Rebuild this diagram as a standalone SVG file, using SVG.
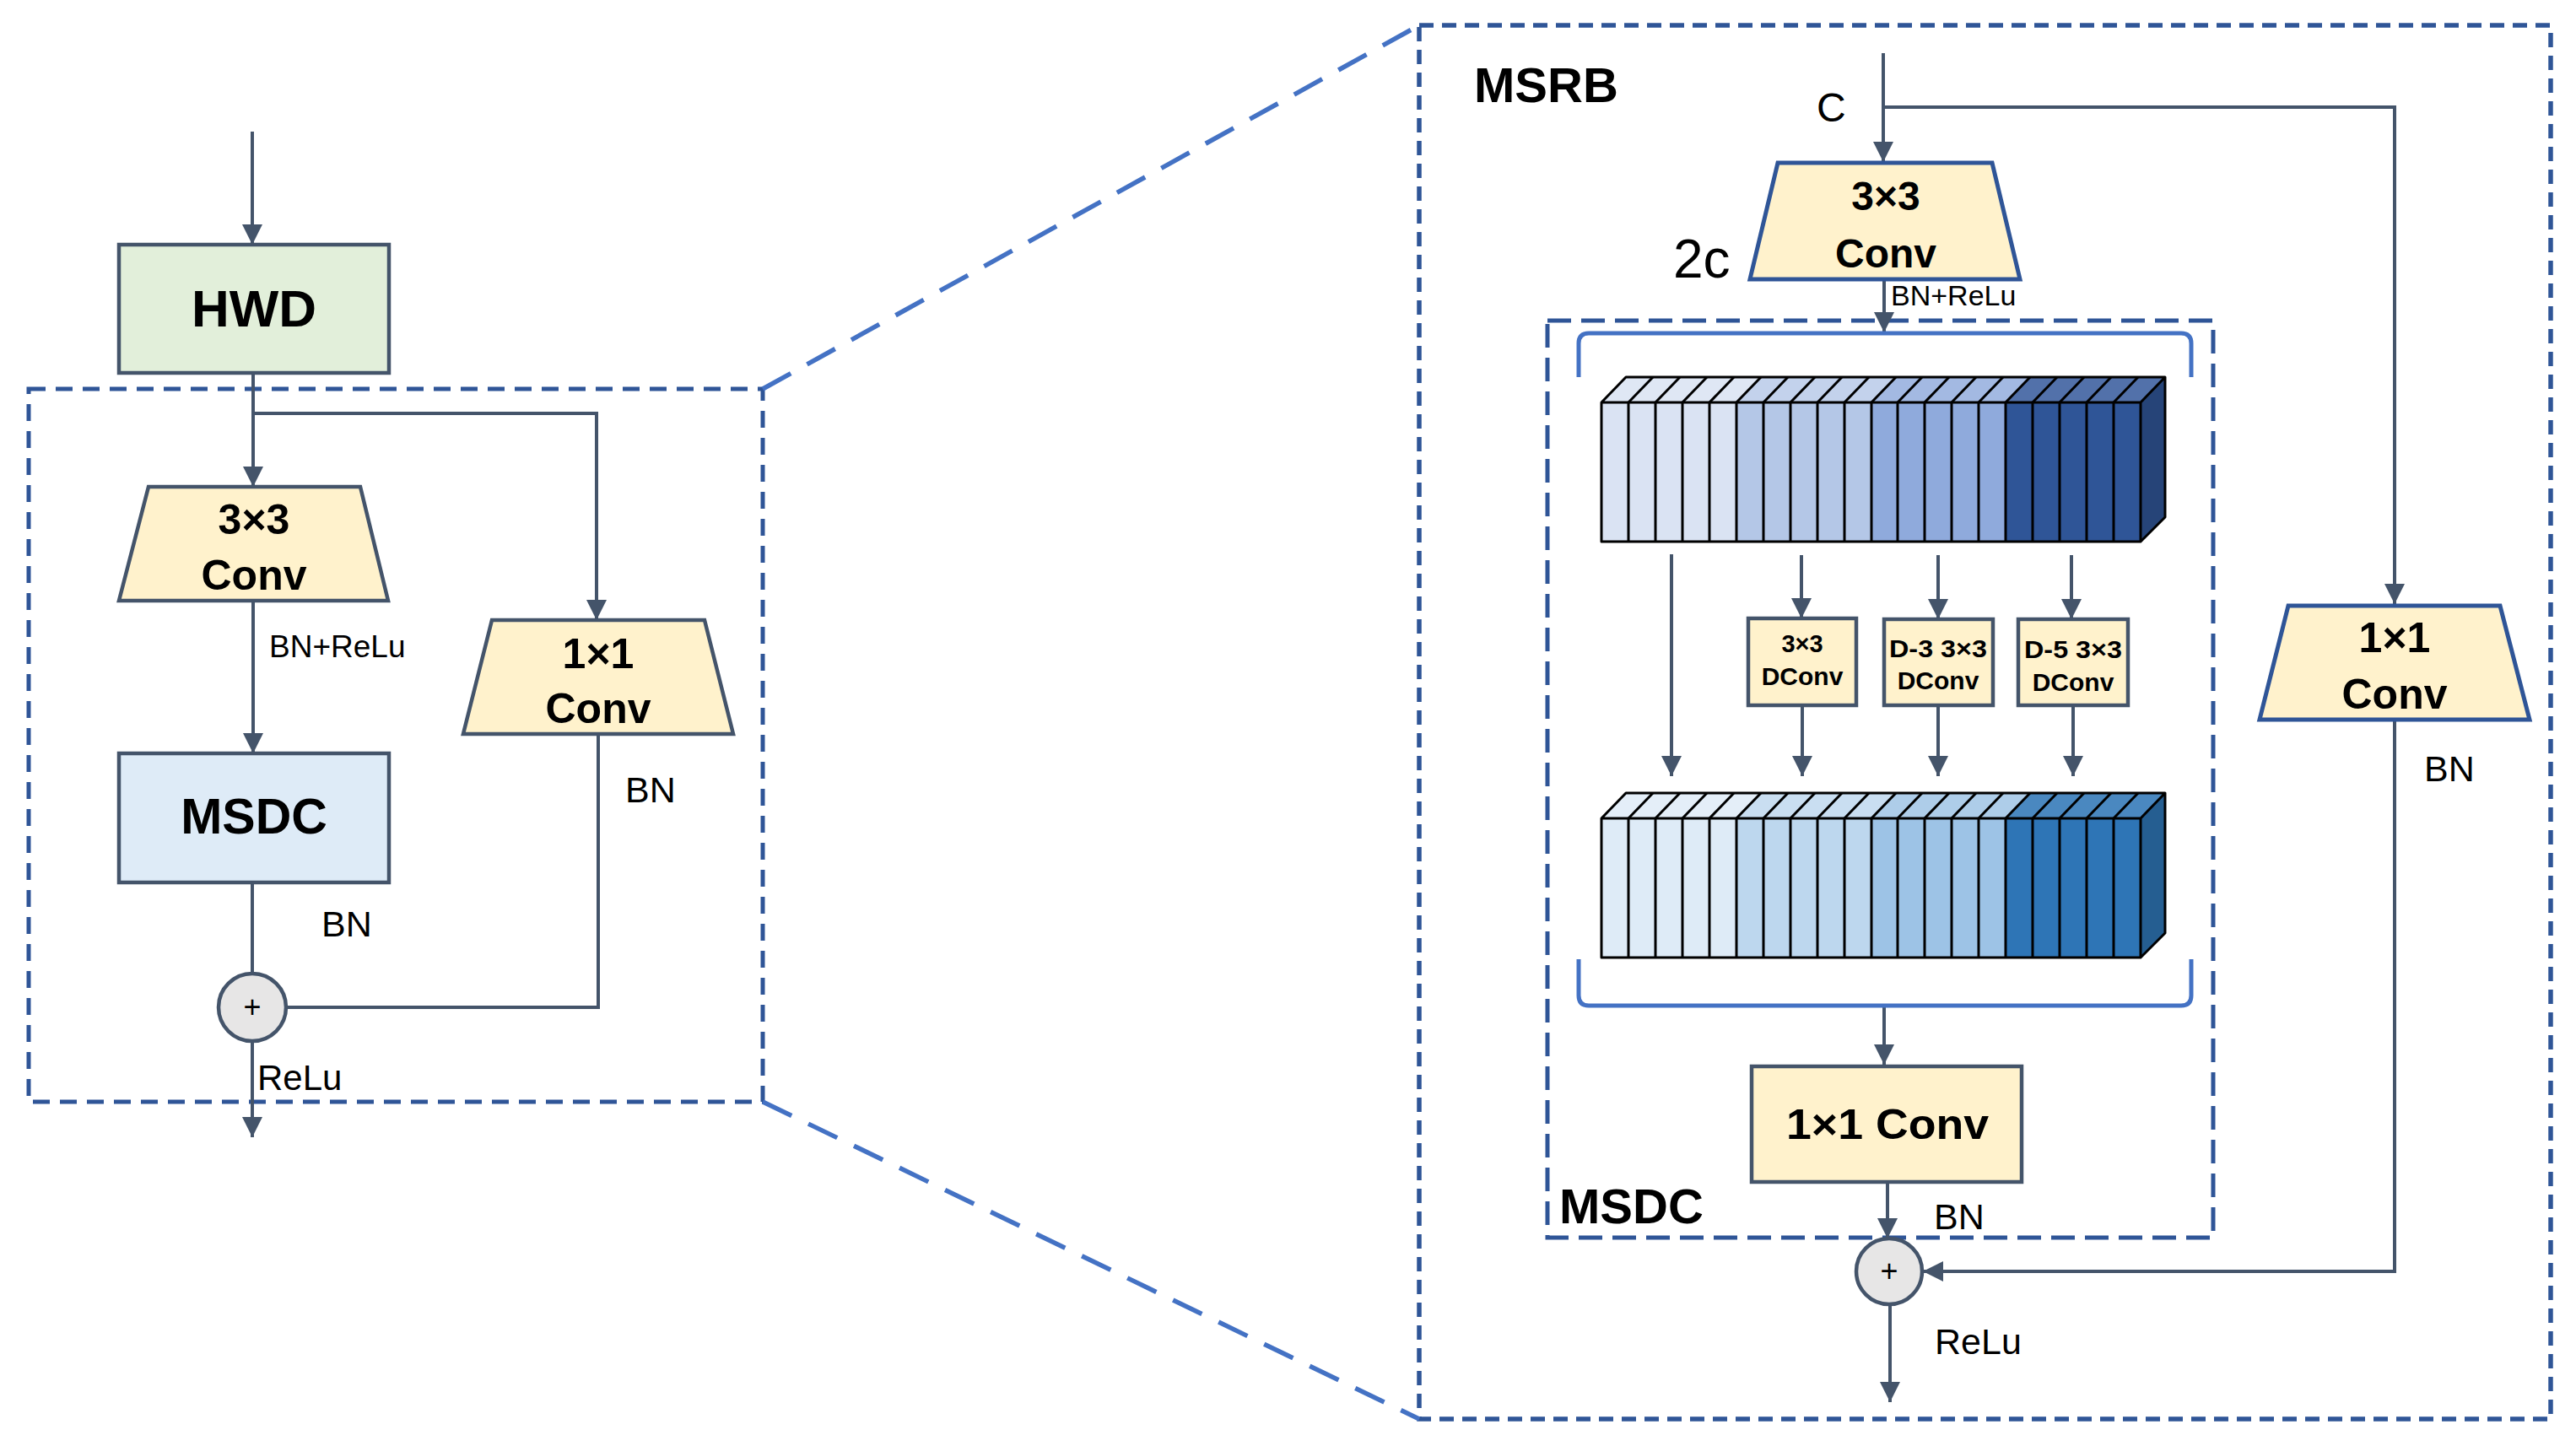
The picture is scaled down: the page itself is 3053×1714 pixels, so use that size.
<svg xmlns="http://www.w3.org/2000/svg" width="3053" height="1714" viewBox="0 0 3053 1714">
<defs>
<style>
.t{font-family:"Liberation Sans","Noto Sans",Arial,sans-serif;fill:#000}
.b{font-weight:bold}
.c{text-anchor:middle}
.node{stroke:#44546a;stroke-width:4.5}
.blue{stroke:#2f5597;stroke-width:5}
.conv{fill:#fff2cc}
.edge{fill:none;stroke:#44546a;stroke-width:4}
.arr{marker-end:url(#ah)}
.dash1{fill:none;stroke:#2f5597;stroke-width:5;stroke-dasharray:20 12}
.dash2{fill:none;stroke:#2f5597;stroke-width:5.5;stroke-dasharray:17 10}
.dash3{fill:none;stroke:#2f5597;stroke-width:5;stroke-dasharray:28 12}
.call{fill:none;stroke:#4472c4;stroke-width:5.5;stroke-dasharray:38 22}
.brk{fill:none;stroke:#4472c4;stroke-width:5}
.out{fill:none;stroke:#000;stroke-width:3;stroke-linejoin:round}
</style>
<marker id="ah" markerUnits="userSpaceOnUse" markerWidth="26" markerHeight="26" refX="24" refY="12" orient="auto">
<path d="M0,0 L24,12 L0,24 z" fill="#44546a"/>
</marker>
<path id="div" d="M1930,642V477l29,-30M1962,642V477l29,-30M1994,642V477l29,-30M2026,642V477l29,-30M2058,642V477l29,-30M2090,642V477l29,-30M2122,642V477l29,-30M2154,642V477l29,-30M2186,642V477l29,-30M2218,642V477l29,-30M2249,642V477l29,-30M2281,642V477l29,-30M2313,642V477l29,-30M2345,642V477l29,-30M2377,642V477l29,-30M2409,642V477l29,-30M2441,642V477l29,-30M2473,642V477l29,-30M2505,642V477l29,-30"/>
</defs>
<rect width="3053" height="1714" fill="#fff"/>

<g id="frames">
<rect class="dash1" x="34" y="461" width="870" height="845"/>
<rect class="dash2" x="1682" y="30" width="1341" height="1652"/>
<rect class="dash3" x="1834" y="380" width="789" height="1087"/>
<path class="call" d="M904,461 L1682,30 M904,1306 L1682,1682"/>
</g>

<g id="connectors">
<path class="edge arr" d="M299,156 V290"/>
<path class="edge arr" d="M300,442 V577"/>
<path class="edge arr" d="M300,490 H707 V735"/>
<path class="edge arr" d="M300,712 V893"/>
<path class="edge" d="M299,1046 V1154"/>
<path class="edge" d="M709,870 V1194 H339"/>
<path class="edge arr" d="M299,1234 V1348"/>
<path class="edge arr" d="M2232,63 V192"/>
<path class="edge arr" d="M2232,127 H2838 V716"/>
<path class="edge arr" d="M2233,331 V394"/>
<path class="edge arr" d="M1981,657 V920"/>
<path class="edge arr" d="M2135,658 V733"/>
<path class="edge arr" d="M2136,836 V920"/>
<path class="edge arr" d="M2297,658 V734"/>
<path class="edge arr" d="M2297,836 V920"/>
<path class="edge arr" d="M2455,658 V734"/>
<path class="edge arr" d="M2457,836 V920"/>
<path class="edge arr" d="M2233,1192 V1262"/>
<path class="edge arr" d="M2237,1401 V1468"/>
<path class="edge arr" d="M2838,853 V1507 H2279"/>
<path class="edge arr" d="M2240,1546 V1662"/>
</g>

<g id="hwd">
<rect class="node" x="141" y="290" width="320" height="152" fill="#e2efda"/>
<text class="t b c" x="301" y="387" font-size="62">HWD</text>
</g>
<g id="conv3x3-left">
<polygon class="node conv" points="176,577 427,577 460,712 141,712"/>
<text class="t b c" x="301" y="633" font-size="50">3×3</text>
<text class="t b c" x="301" y="699" font-size="50">Conv</text>
</g>
<g id="conv1x1-left">
<polygon class="node conv" points="583,735 835,735 869,870 549,870"/>
<text class="t b c" x="709" y="792" font-size="50">1×1</text>
<text class="t b c" x="709" y="857" font-size="50">Conv</text>
</g>
<g id="msdc-left">
<rect class="node" x="141" y="893" width="320" height="153" fill="#deebf7"/>
<text class="t b c" x="301" y="988" font-size="59">MSDC</text>
</g>
<g id="add-left">
<circle class="node" cx="299" cy="1194" r="40" fill="#e7e6e6"/>
<text class="t c" x="299" y="1206" font-size="36">+</text>
</g>
<g id="labels-left">
<text class="t" x="319" y="779" font-size="37">BN+ReLu</text>
<text class="t" x="741" y="951" font-size="43">BN</text>
<text class="t" x="381" y="1110" font-size="43">BN</text>
<text class="t" x="305" y="1292" font-size="42">ReLu</text>
</g>

<g id="msrb-title">
<text class="t b" x="1747" y="121" font-size="58">MSRB</text>
<text class="t" x="2153" y="144" font-size="48">C</text>
<text class="t" x="1983" y="329" font-size="64">2c</text>
<text class="t" x="2241" y="362" font-size="34">BN+ReLu</text>
</g>
<g id="conv3x3-right">
<polygon class="blue conv" points="2107,193 2361,193 2394,331 2074,331"/>
<text class="t b c" x="2235" y="249" font-size="48">3×3</text>
<text class="t b c" x="2235" y="317" font-size="48">Conv</text>
</g>
<g id="conv1x1-right">
<polygon class="blue conv" points="2712,718 2963,718 2998,853 2678,853"/>
<text class="t b c" x="2838" y="773" font-size="50">1×1</text>
<text class="t b c" x="2838" y="840" font-size="50">Conv</text>
<text class="t" x="2873" y="926" font-size="43">BN</text>
</g>

<g id="brackets">
<path class="brk" d="M1871,447 V407 Q1871,395 1883,395 H2585 Q2597,395 2597,407 V447"/>
<path class="brk" d="M1871,1137 V1180 Q1871,1192 1883,1192 H2585 Q2597,1192 2597,1180 V1137"/>
</g>

<g id="features-in">
<polygon points="1898,477 1927,447 2087,447 2058,477" fill="#dfe7f4"/>
<polygon points="2058,477 2087,447 2247,447 2218,477" fill="#c3d2ec"/>
<polygon points="2218,477 2247,447 2406,447 2377,477" fill="#a3b9e2"/>
<polygon points="2377,477 2406,447 2566,447 2537,477" fill="#5271aa"/>
<rect x="1898" y="477" width="160" height="165" fill="#dae3f3"/>
<rect x="2058" y="477" width="160" height="165" fill="#b4c7e7"/>
<rect x="2218" y="477" width="159" height="165" fill="#8faadc"/>
<rect x="2377" y="477" width="160" height="165" fill="#2f5597"/>
<polygon points="2537,477 2566,447 2566,613 2537,642" fill="#264478"/>
<use href="#div" class="out"/>
<path class="out" d="M1898,477 H2537 V642 H1898 Z M1898,477 L1927,447 H2566 V613 L2537,642 M2537,477 L2566,447"/>
</g>

<g id="dconv1">
<rect class="node conv" x="2072" y="733" width="128" height="103"/>
<text class="t b c" x="2136" y="773" font-size="29">3×3</text>
<text class="t b c" x="2136" y="812" font-size="30">DConv</text>
</g>
<g id="dconv2">
<rect class="node conv" x="2233" y="734" width="129" height="102"/>
<text class="t b c" x="2297" y="779" font-size="30" textLength="116" lengthAdjust="spacingAndGlyphs">D-3 3×3</text>
<text class="t b c" x="2297" y="817" font-size="30">DConv</text>
</g>
<g id="dconv3">
<rect class="node conv" x="2392" y="734" width="130" height="102"/>
<text class="t b c" x="2457" y="780" font-size="30" textLength="116" lengthAdjust="spacingAndGlyphs">D-5 3×3</text>
<text class="t b c" x="2457" y="819" font-size="30">DConv</text>
</g>

<g id="features-out" transform="translate(0,493)">
<polygon points="1898,477 1927,447 2087,447 2058,477" fill="#e4eef8"/>
<polygon points="2058,477 2087,447 2247,447 2218,477" fill="#c9def1"/>
<polygon points="2218,477 2247,447 2406,447 2377,477" fill="#aecde9"/>
<polygon points="2377,477 2406,447 2566,447 2537,477" fill="#4a88c0"/>
<rect x="1898" y="477" width="160" height="165" fill="#deebf7"/>
<rect x="2058" y="477" width="160" height="165" fill="#bdd7ee"/>
<rect x="2218" y="477" width="159" height="165" fill="#9dc3e6"/>
<rect x="2377" y="477" width="160" height="165" fill="#2e75b6"/>
<polygon points="2537,477 2566,447 2566,613 2537,642" fill="#255e91"/>
<use href="#div" class="out"/>
<path class="out" d="M1898,477 H2537 V642 H1898 Z M1898,477 L1927,447 H2566 V613 L2537,642 M2537,477 L2566,447"/>
</g>

<g id="conv1x1-msdc">
<rect class="node conv" x="2076" y="1264" width="320" height="137"/>
<text class="t b c" x="2237" y="1350" font-size="50" textLength="240" lengthAdjust="spacingAndGlyphs">1×1 Conv</text>
</g>
<g id="msdc-right-label">
<text class="t b" x="1848" y="1450" font-size="58">MSDC</text>
<text class="t" x="2292" y="1457" font-size="43">BN</text>
</g>
<g id="add-right">
<circle class="node" cx="2239" cy="1507" r="39" fill="#e7e6e6"/>
<text class="t c" x="2239" y="1519" font-size="36">+</text>
<text class="t" x="2293" y="1605" font-size="43">ReLu</text>
</g>
</svg>
